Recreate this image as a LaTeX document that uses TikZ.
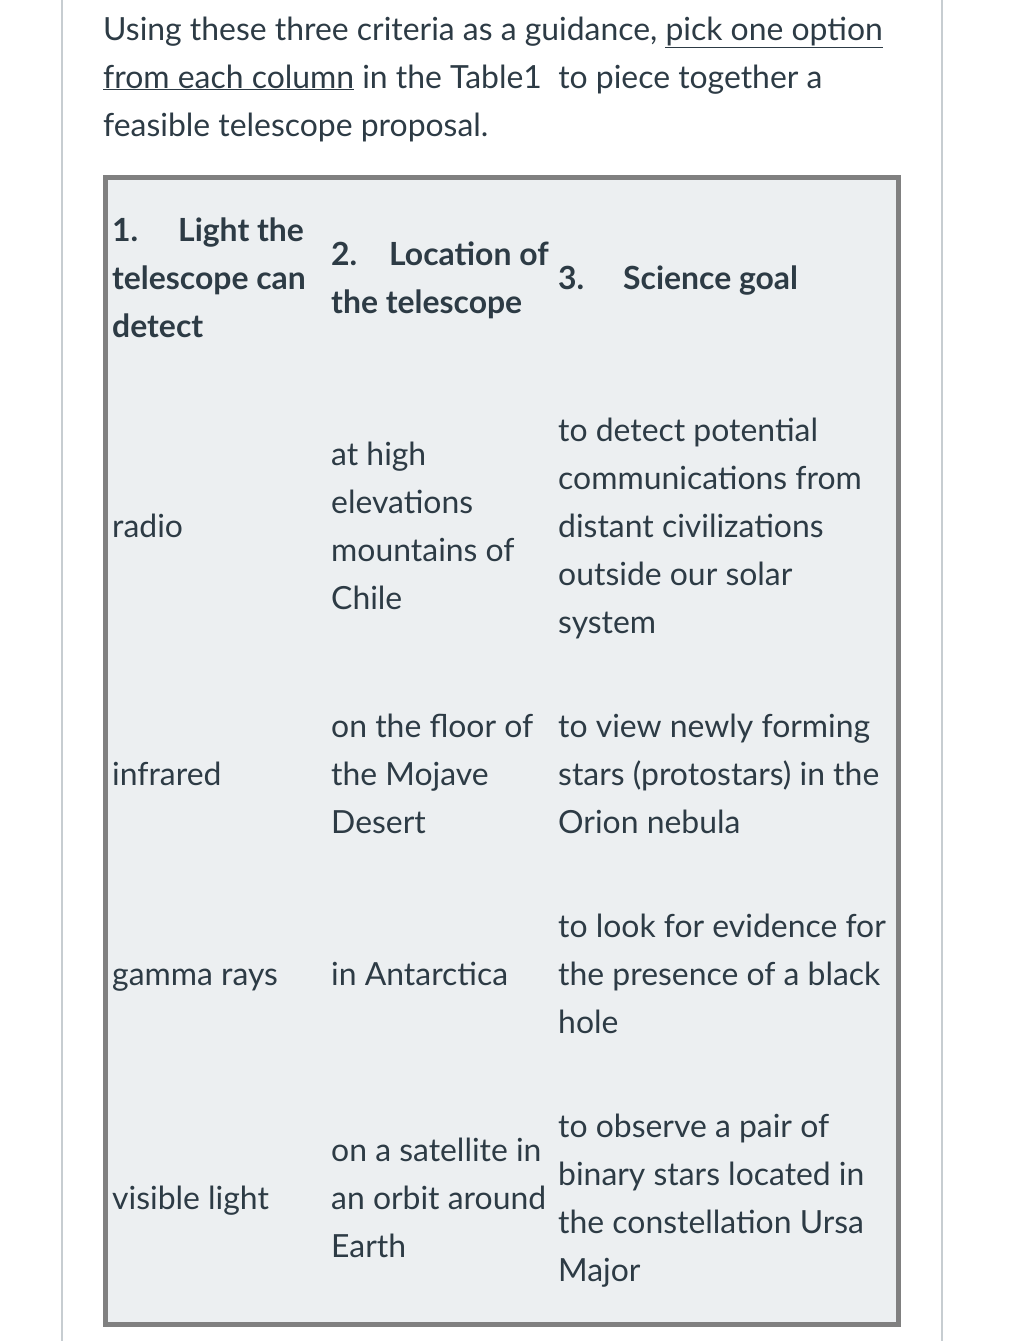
\documentclass[tikz,border=0pt]{standalone}
\usepackage{fontspec}
\setmainfont{Lato}
\definecolor{txt}{HTML}{2D3B45}
\definecolor{cellbg}{HTML}{ECEFF1}
\definecolor{bord}{HTML}{808080}
\definecolor{side}{HTML}{C7CDD1}
\tikzset{t/.style={anchor=base west,inner sep=0pt,text=txt,font=\fontsize{31.9}{38}\selectfont},
 h/.style={t,font=\fontsize{31.9}{38}\selectfont\bfseries}}
\begin{document}
\begin{tikzpicture}[x=1pt,y=-1pt]
\useasboundingbox (0,0) rectangle (1012,1341);
\draw[side,line width=1.5pt] (62,0) -- (62,1341) (942,0) -- (942,1341);
\node[t] (i1) at (103,40) {Using these three criteria as a guidance, \underline{pick one option}};
\node[t] (i2) at (103,88) {\underline{from each column} in the Table1\ \ to piece together a};
\node[t] (i3) at (103,136) {feasible telescope proposal.};
\draw[bord,fill=cellbg,line width=5pt] (105,177.5) rectangle (898.5,1324.5);
% headers
\node[h] (h1a) at (112,241) {1.};
\node[h] (h1b) at (178,241) {Light the};
\node[h] (h1c) at (112,289) {telescope can};
\node[h] (h1d) at (112,337) {detect};
\node[h] (h2a) at (331,265) {2.};
\node[h] (h2b) at (389,265) {Location of};
\node[h] (h2c) at (331,313) {the telescope};
\node[h] (h3a) at (558,289) {3.};
\node[h] (h3b) at (623,289) {Science goal};
% row 1
\node[t] (r1) at (112,537) {radio};
\node[t] (a1) at (331,465) {at high};
\node[t] (a2) at (331,513) {elevations};
\node[t] (a3) at (331,561) {mountains of};
\node[t] (a4) at (331,609) {Chile};
\node[t] (s1) at (558,441) {to detect potential};
\node[t] (s2) at (558,489) {communications from};
\node[t] (s3) at (558,537) {distant civilizations};
\node[t] (s4) at (558,585) {outside our solar};
\node[t] (s5) at (558,633) {system};
% row 2
\node[t] (r2) at (112,785) {infrared};
\node[t] (b1) at (331,737) {on the floor of};
\node[t] (b2) at (331,785) {the Mojave};
\node[t] (b3) at (331,833) {Desert};
\node[t] (u1) at (558,737) {to view newly forming};
\node[t] (u2) at (558,785) {stars (protostars) in the};
\node[t] (u3) at (558,833) {Orion nebula};
% row 3
\node[t] (r3) at (112,985) {gamma rays};
\node[t] (c1) at (331,985) {in Antarctica};
\node[t] (v1) at (558,937) {to look for evidence for};
\node[t] (v2) at (558,985) {the presence of a black};
\node[t] (v3) at (558,1033) {hole};
% row 4
\node[t] (r4) at (112,1209) {visible light};
\node[t] (d1) at (331,1161) {on a satellite in};
\node[t] (d2) at (331,1209) {an orbit around};
\node[t] (d3) at (331,1257) {Earth};
\node[t] (w1) at (558,1137) {to observe a pair of};
\node[t] (w2) at (558,1185) {binary stars located in};
\node[t] (w3) at (558,1233) {the constellation Ursa};
\node[t] (w4) at (558,1281) {Major};
\end{tikzpicture}
\end{document}
